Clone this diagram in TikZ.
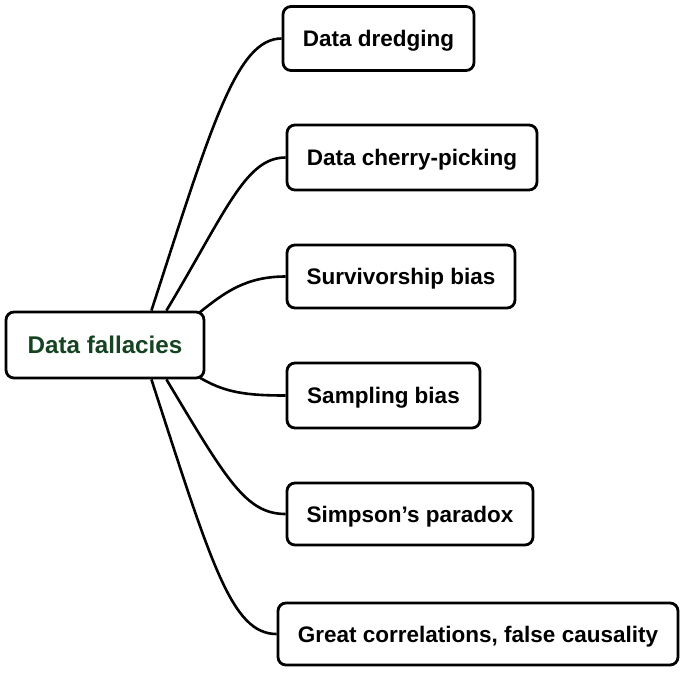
\documentclass[tikz,border=0pt]{standalone}
\usepackage{fontspec}
\setmainfont{Liberation Sans}
\usetikzlibrary{calc}
\definecolor{rootgreen}{RGB}{22,68,34}
\tikzset{
  box/.style={draw=black, line width=2.8pt, rounded corners=8pt, fill=white,
    inner sep=0pt, align=center, text height=16.1pt, text depth=0pt,
    font=\fontsize{22.5}{27}\selectfont\bfseries},
  link/.style={draw=black, line width=2.6pt}
}
\begin{document}
\begin{tikzpicture}[x=1pt,y=-1pt]
\useasboundingbox (0,0) rectangle (685,673);
\node[box, text=rootgreen, minimum width=198pt, minimum height=66pt, text height=17.3pt, font=\fontsize{24.2}{29}\selectfont\bfseries] (root) at (105,345) {Data fallacies};
\node[box, minimum width=191pt, minimum height=64pt] (dd) at (378.5,38.5) {Data dredging};
\node[box, minimum width=250pt, minimum height=65pt] (cp) at (412,157.5) {Data cherry-picking};
\node[box, minimum width=228pt, minimum height=63pt] (sv) at (401,276.5) {Survivorship bias};
\node[box, minimum width=193pt, minimum height=65pt] (sb) at (383.5,395.5) {Sampling bias};
\node[box, minimum width=246pt, minimum height=62pt] (sp) at (410,514) {Simpson’s paradox};
\node[box, minimum width=400pt, minimum height=62pt] (gc) at (478,634) {Great correlations, false causality};

\draw[link] ($(root.north east)+(-54,0)$) .. controls +(60,-185) and +(-45,0) .. (dd.west);
\draw[link] ($(root.north east)+(-39,0)$) .. controls +(60,-100) and +(-40,0) .. (cp.west);
\draw[link] ($(root.north east)+(-6,2)$) .. controls +(25,-20) and +(-40,0) .. (sv.west);
\draw[link] ($(root.south east)+(-6,-2)$) .. controls +(25,15) and +(-40,0) .. (sb.west);
\draw[link] ($(root.south east)+(-39,0)$) .. controls +(60,100) and +(-40,0) .. (sp.west);
\draw[link] ($(root.south east)+(-54,0)$) .. controls +(60,185) and +(-45,0) .. (gc.west);
\end{tikzpicture}
\end{document}
